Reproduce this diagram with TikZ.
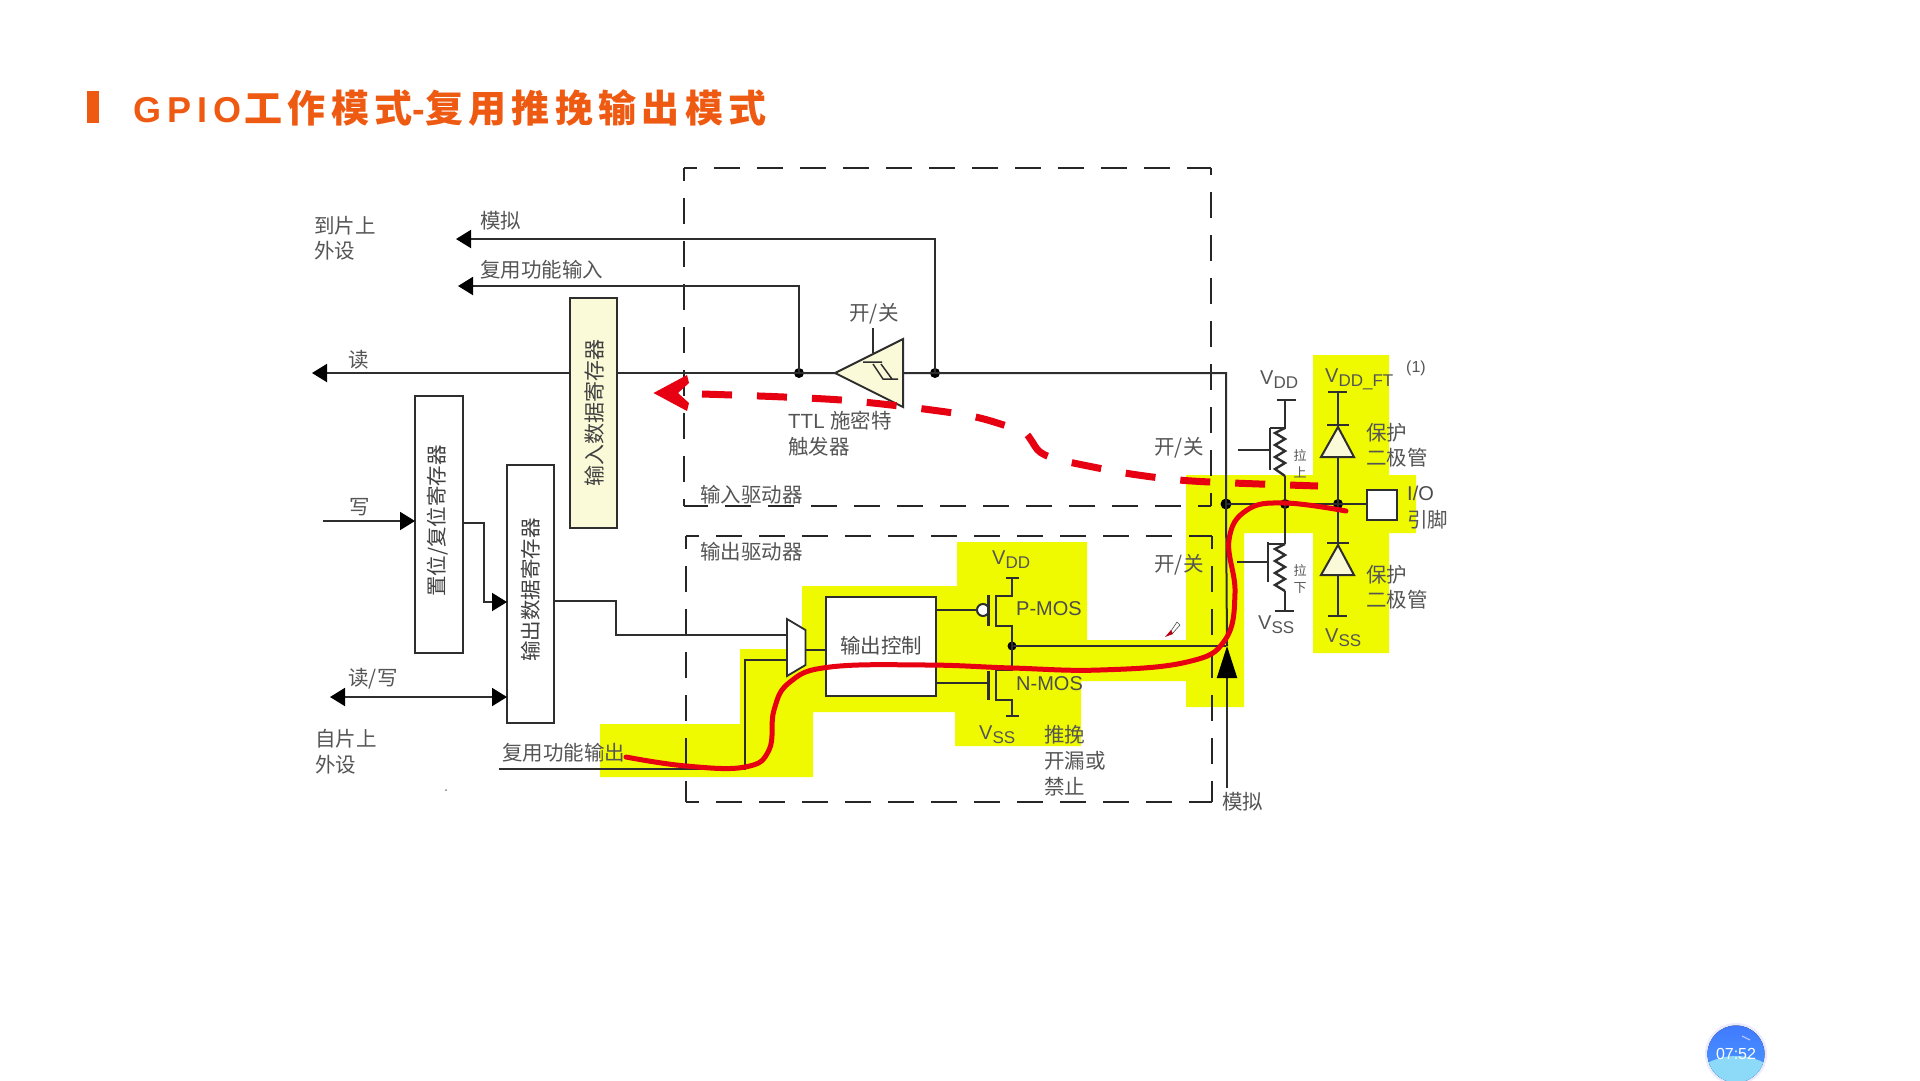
\documentclass[tikz,border=0pt]{standalone}
\usepackage{fontspec}
\setmainfont{Liberation Sans}
\newfontfamily\cjk{Noto Sans CJK SC}
\newfontfamily\ttlfont[LetterSpace=17]{Liberation Sans}
\newfontfamily\ttlcjk[LetterSpace=14]{Noto Sans CJK SC}
\usetikzlibrary{arrows.meta,calc,shadings}
\definecolor{hl}{HTML}{EFFA00}
\definecolor{wire}{HTML}{2E2E2E}
\definecolor{lab}{HTML}{555555}
\definecolor{cream}{HTML}{FAFAD9}
\definecolor{ttl}{HTML}{EE5A12}
\definecolor{redp}{HTML}{E60012}
\tikzset{
 wireline/.style={draw=wire,line width=2pt},
 tipa/.style={-{Triangle[length=15pt,width=18pt,color=black]}},
 box/.style={draw=wire,line width=2pt,fill=white,inner sep=0pt},
 dashbox/.style={draw=black!85,line width=2pt,dash pattern=on 26pt off 17pt,dash phase=13pt},
 lbl/.style={text=lab,font=\cjk\fontsize{20.5}{20.5}\selectfont,inner sep=0pt},
 vlbl/.style={lbl,text=black!75,rotate=90},
 smalllbl/.style={text=lab,font=\cjk\fontsize{13}{13}\selectfont,inner sep=0pt},
 latin/.style={text=lab,font=\fontsize{20}{20}\selectfont,inner sep=0pt},
 dot/.style={circle,fill=black,inner sep=0pt,minimum size=10pt},
 redline/.style={draw=redp,line width=5pt,line cap=round},
}
\begin{document}
\begin{tikzpicture}[x=1pt,y=-1pt]
\useasboundingbox (0,0) rectangle (1920,1080);
\fill[white] (0,0) rectangle (1920,1080);
% title
\fill[ttl] (87,91) rectangle (99,123);
\node[anchor=west,inner sep=0pt,text=ttl] (title) at (133,108)
 {\ttlfont\fontsize{36}{36}\selectfont\bfseries GPIO\kern3pt\ttlcjk\fontsize{38}{38}\selectfont\bfseries 工作模式\ttlfont\bfseries -\ttlcjk\bfseries 复用推挽输出模式};
% yellow
\fill[hl] (600,724)--(740,724)--(740,649)--(802,649)--(802,586)--(957,586)--(957,542)--(1087,542)--(1087,640)--(1186,640)--(1186,475)--(1313,475)--(1313,355)--(1389,355)--(1389,475)--(1416,475)--(1416,533)--(1389,533)--(1389,653)--(1313,653)--(1313,533)--(1244,533)--(1244,707)--(1186,707)--(1186,681)--(1081,681)--(1081,746)--(955,746)--(955,712)--(813,712)--(813,777)--(600,777)--cycle;
% dashed boxes
\coordinate (ua) at (684,168);\coordinate (ub) at (1211,168);\coordinate (uc) at (1211,506);\coordinate (ud) at (684,506);
\draw[dashbox] (ua)--(ub);\draw[dashbox] (ua)--(ud);\draw[dashbox] (uc)--(ub);\draw[dashbox] (uc)--(ud);
\coordinate (la) at (686,536);\coordinate (lb) at (1212,536);\coordinate (lc) at (1212,802);\coordinate (ld) at (686,802);
\draw[dashbox] (la)--(lb);\draw[dashbox] (lb)--(lc);\draw[dashbox] (la)--(ld);\draw[dashbox] (ld)--(lc);
% named points
\coordinate (anaL) at (456,239);
\coordinate (altL) at (458,286);
\coordinate (readL) at (312,373);
\node[dot] (jAlt) at (799,373) {};
\node[dot] (jAna) at (935,373) {};
\node[dot,minimum size=11pt] (jV) at (1226,504) {};
\node[dot] (jR) at (1285,504) {};
\node[dot] (jD) at (1338,504) {};
\coordinate (corner) at (1226,373);
\coordinate (anaBot) at (1227,788);
\coordinate (anaTip) at (1227,646);
% wires
\draw[wireline,tipa] (jAna.center)--(935,239)--(anaL);
\draw[wireline,tipa] (jAlt.center)--(799,286)--(altL);
\draw[wireline,tipa] (jAlt.center)--(readL);
\draw[wireline] (jAlt.center)--(corner)--(jV.center)--(anaTip);
\draw[wireline,-{Triangle[length=32pt,width=20pt,color=black]}] (anaBot)--(anaTip);
\draw[wireline] (jV.center)--(1367,504);
% input register
\node[box,fill=cream,minimum width=47pt,minimum height=230pt] (inreg) at (593.5,413) {};
\node[vlbl,font=\cjk\fontsize{21}{21}\selectfont] (inregt) at (594,413) {输入数据寄存器};
% trigger
\draw[wireline] (873,328)--(873,353);
\node[inner sep=0pt] (trigin) at (835,373) {};
\coordinate (trigtop) at (903,339);
\coordinate (trigbot) at (903,407);
\fill[cream,draw=wire,line width=2pt] (trigin.center)--(trigtop)--(trigbot)--cycle;
\draw[wire,line width=1.5pt] (863,362)--(882,362) (873,364)--(883,379)--(892,379)--(881,364) (883,379)--(898,379);
% set/reset, out data
\node[box,minimum width=48pt,minimum height=257pt] (setreg) at (439,524.5) {};
\node[vlbl] (setregt) at (438,521) {置位/复位寄存器};
\node[box,minimum width=47pt,minimum height=258pt] (outreg) at (530.5,594) {};
\node[vlbl] (outregt) at (531,590) {输出数据寄存器};
\coordinate (wrL) at (323,521);
\draw[wireline,tipa] (wrL)--(415,521);
\draw[wireline,tipa] (463,523)--(484,523)--(484,602)--(507,602);
\draw[wireline,{Triangle[length=15pt,width=18pt,color=black]}-{Triangle[length=15pt,width=18pt,color=black]}] (330,697)--(507,697);
% output control
\node[box,minimum width=110pt,minimum height=99pt] (ctrl) at (881,646.5) {};
\node[lbl,text=black!70] (ctrlt) at (881,646) {输出控制};
\coordinate (mA) at (787,619);\coordinate (mB) at (805.5,630);\coordinate (mC) at (805.5,665);\coordinate (mD) at (787,676);
\draw[wireline] (554,601)--(616,601)--(616,635)--(787,635);
\draw[wireline] (499,769)--(745,769)--(745,660)--(787,660);
\draw[wireline] (805.5,650)--(826,650);
\fill[white,draw=wire,line width=1.8pt] (mA)--(mB)--(mC)--(mD)--cycle;
% MOS
\node[dot,minimum size=9pt] (jM) at (1012,646) {};
\draw[wireline] (936,610)--(977,610);
\draw[wireline,fill=white] (983,610) circle (6pt);
\draw[wireline] (936,683)--(988.5,683);
\draw[wireline] (1006,578)--(1019,578) (1012,578)--(1012,596)--(995.5,596)--(995.5,626)--(1012,626)--(1012,670)--(995.5,670)--(995.5,700)--(1012,700)--(1012,716) (1006,716)--(1019,716);
\draw[wireline,line width=2.4pt] (988.5,595)--(988.5,626) (988.5,671)--(988.5,700);
\draw[wireline] (jM.center)--(1226,646);
% pull-up
\draw[wireline] (1277,400)--(1296,400) (1285,400)--(1285,428)--(1270,428);
\draw[wireline,line width=2.4pt] (1270,428)--(1270,470);
\draw[wireline] (1238,450)--(1270,450);
\draw[wireline,line width=2.4pt] (1285,428)--(1275,433)--(1285,439)--(1275,445)--(1285,451)--(1275,457)--(1285,463)--(1275,469)--(1285,476);
\draw[wireline] (1285,476)--(jR.center)--(1285,544);
% pull-down
\draw[wireline] (1285,544)--(1268,544);
\draw[wireline,line width=2.4pt] (1268,542)--(1268,582);
\draw[wireline] (1237,562)--(1268,562);
\draw[wireline,line width=2.4pt] (1285,544)--(1275,549)--(1285,555)--(1275,561)--(1285,567)--(1275,573)--(1285,579)--(1275,585)--(1285,591);
\draw[wireline] (1285,591)--(1285,611) (1275,611)--(1294,611);
% diodes
\draw[wireline] (1328,392)--(1347,392) (1338,392)--(1338,616) (1328,616)--(1347,616);
\draw[wireline] (1327,425)--(1349,425) (1327,543)--(1349,543);
\fill[cream,draw=wire,line width=2pt] (1338,427)--(1354,457)--(1321,457)--cycle;
\fill[cream,draw=wire,line width=2pt] (1338,545)--(1354,575)--(1321,575)--cycle;
% pin
\node[box,minimum width=30pt,minimum height=30pt] (pin) at (1382,505) {};
% labels
\node[lbl,anchor=west] (t1) at (314,226) {到片上};
\node[lbl,anchor=west] (t2) at (314,251) {外设};
\node[lbl,anchor=west] (t3) at (480,221) {模拟};
\node[lbl,anchor=west] (t4) at (480,270) {复用功能输入};
\node[lbl] (t5) at (359,360) {读};
\node[lbl] (t6) at (360,507) {写};
\node[lbl] (t7) at (373,679) {读/写};
\node[lbl,anchor=west] (t8) at (315,739) {自片上};
\node[lbl,anchor=west] (t9) at (315,765) {外设};
\node[lbl,anchor=west] (t10) at (502,753) {复用功能输出};
\node[lbl,anchor=west] (t11) at (700,552) {输出驱动器};
\node[lbl,anchor=west] (t12) at (700,495) {输入驱动器};
\node[lbl] (t13) at (874,314) {开/关};
\node[lbl,anchor=west] (t14) at (788,421) {\fontspec{Liberation Sans}TTL \cjk 施密特};
\node[lbl,anchor=west] (t15) at (788,447) {触发器};
\node[lbl] (t16) at (1179,448) {开/关};
\node[lbl] (t17) at (1179,565) {开/关};
\node[lbl,anchor=west] (t18) at (1366,433) {保护};
\node[lbl,anchor=west] (t19) at (1366,458) {二极管};
\node[lbl,anchor=west] (t20) at (1366,575) {保护};
\node[lbl,anchor=west] (t21) at (1366,600) {二极管};
\node[lbl,anchor=west] (t22) at (1044,735) {推挽};
\node[lbl,anchor=west] (t23) at (1044,761) {开漏或};
\node[lbl,anchor=west] (t24) at (1044,787) {禁止};
\node[lbl,anchor=west] (t25) at (1222,802) {模拟};
\node[lbl,anchor=west] (t26) at (1407,520) {引脚};
\node[latin,anchor=west,text=black!70] (t27) at (1407,493) {I/O};
\node[latin,anchor=west,text=black!70] (t28) at (1016,609) {P-MOS};
\node[latin,anchor=west,text=black!70] (t29) at (1016,684) {N-MOS};
\node[smalllbl] (t30) at (1300,455) {拉};
\node[smalllbl] (t31) at (1300,472) {上};
\node[smalllbl] (t32) at (1300,570) {拉};
\node[smalllbl] (t33) at (1300,588) {下};
\newcommand{\vv}[1]{V\raisebox{-4pt}{\fontsize{17}{17}\selectfont #1}}
\node[latin,anchor=west] (v1) at (1260,380) {\vv{DD}};
\node[latin,anchor=west] (v2) at (1325,379) {\vv{DD\_FT}};
\node[latin] (v3) at (1416,368) {\fontsize{16}{16}\selectfont (1)};
\node[latin,anchor=west] (v4) at (1258,625) {\vv{SS}};
\node[latin,anchor=west] (v5) at (1325,638) {\vv{SS}};
\node[latin,anchor=west] (v6) at (992,560) {\vv{DD}};
\node[latin,anchor=west] (v7) at (979,735) {\vv{SS}};
% red path
\draw[redline,line width=7pt,line cap=butt,dash pattern=on 30pt off 25pt] plot[smooth,tension=0.5] coordinates {(702,394)(841,400)(960,414)(1007,426)(1025,433)(1031,440)(1040,452)(1060,460)(1125,473)(1179,480)(1233,483)(1318,486)};
\fill[redp] (653.5,393)--(687,375)--(689,383)--(678,393)--(689,403)--(687,411)--cycle;
\draw[redline] plot[smooth,tension=0.7] coordinates {(626,757)(686,766)(745,767)(769,750)(774,710)(790,682)(830,667)(927,665)(1012,668)(1100,670)(1187,662)(1225,640)(1235,593)(1229,540)(1247,510)(1285,503)(1346,511)};
% cursor
\draw[black!70,line width=.6pt] (1171,631)--(1177,622)--(1180,625)--(1172,634);
\fill[redp!80!black] (1165,637)--(1171,630)--(1173,634)--cycle;
\fill[black!50] (446,790) circle (1pt);
% clock
\fill[blue!8] (1736,1054) circle (31pt);
\begin{scope}
\clip (1736,1054) circle (28.5pt);
\fill[top color=blue!70!cyan!75!white,bottom color=blue!55!cyan!70!white] (1705,1024) rectangle (1767,1084);
\fill[cyan!45!white] (1700,1084)--(1700,1068) .. controls (1720,1052) and (1752,1052) .. (1772,1068)--(1772,1084)--cycle;
\draw[white!80!blue,line width=1pt] (1742,1036)--(1750,1040);
\end{scope}
\node[text=white,font=\fontsize{16}{16}\selectfont,inner sep=0pt] (clock) at (1736,1054) {07:52};
\end{tikzpicture}
\end{document}
